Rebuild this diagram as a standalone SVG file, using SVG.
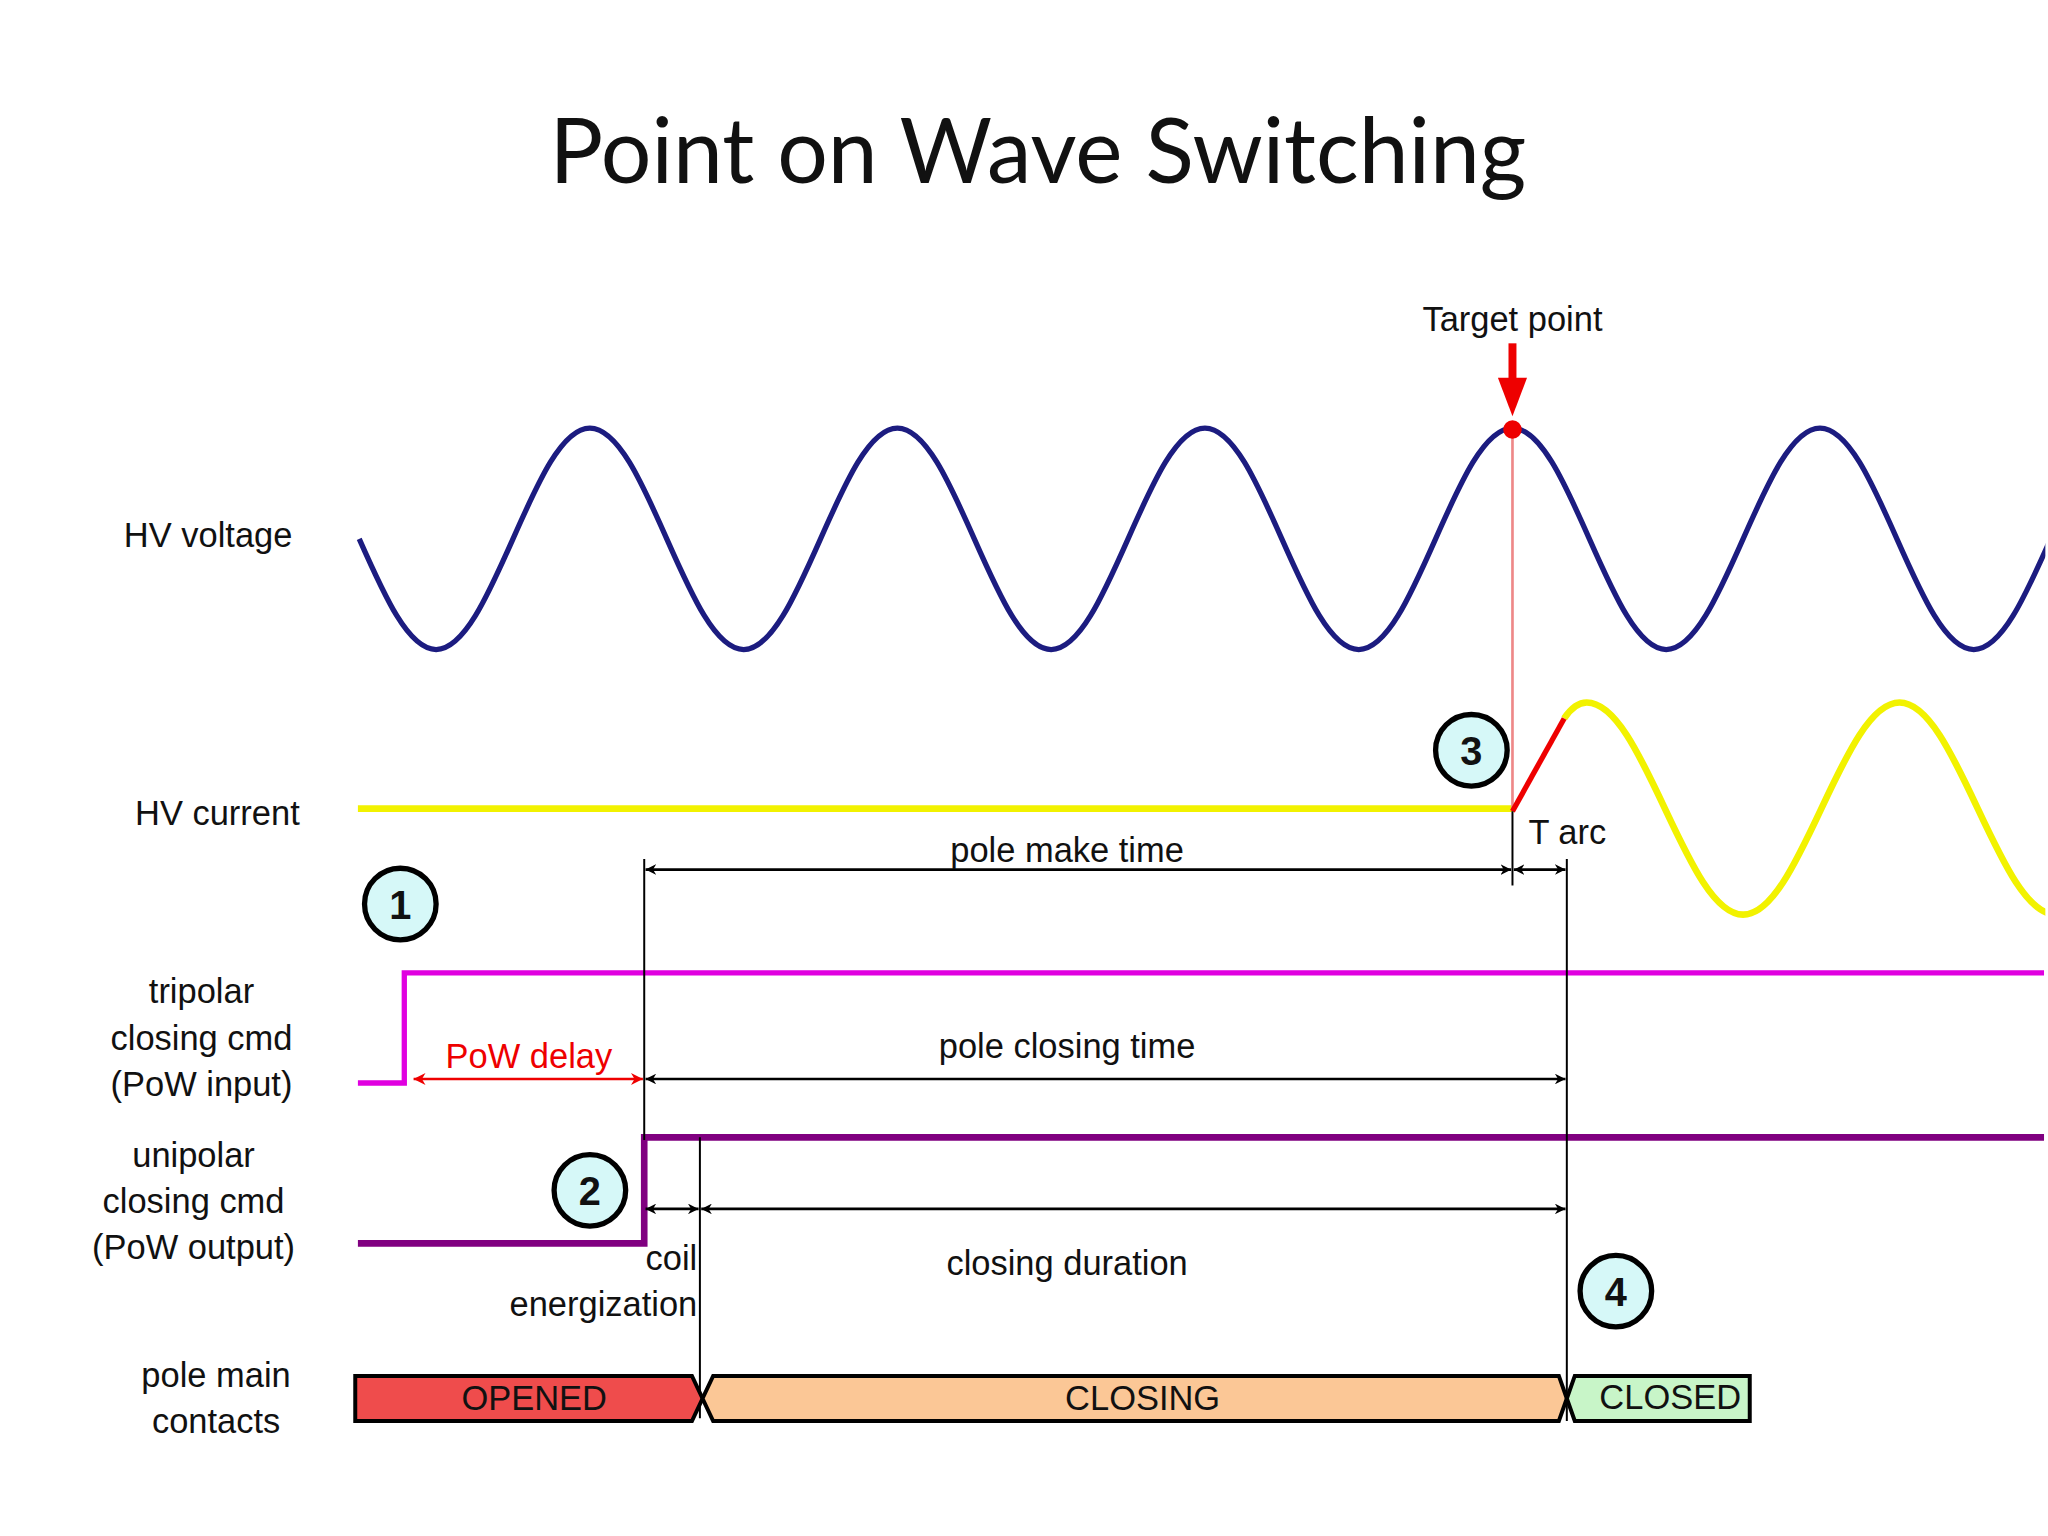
<svg xmlns="http://www.w3.org/2000/svg" width="2048" height="1536" viewBox="0 0 2048 1536">
<style>
.t{font-family:"Liberation Sans",Arial,sans-serif;font-size:26px;fill:#111}
.m{text-anchor:middle}
.dim{stroke:#000;stroke-width:2;fill:none;marker-start:url(#ah);marker-end:url(#ah)}
.vl{stroke:#000;stroke-width:1.5}
.num{fill:#d6f8f8;stroke:#000;stroke-width:4}
.nt{font-family:"Liberation Sans",Arial,sans-serif;font-size:30px;font-weight:bold;text-anchor:middle;fill:#111}
</style>
<defs>
<marker id="ah" viewBox="0 0 10 10" refX="10" refY="5" markerWidth="8" markerHeight="8" markerUnits="userSpaceOnUse" orient="auto-start-reverse"><path d="M0,0 L10,5 L0,10 L3,5 z" fill="#000"/></marker>
<marker id="ahr" viewBox="0 0 10 10" refX="10" refY="5" markerWidth="9" markerHeight="9" markerUnits="userSpaceOnUse" orient="auto-start-reverse"><path d="M0,0 L10,5 L0,10 L3,5 z" fill="#e00"/></marker>
<clipPath id="cp"><rect x="260" y="200" width="1283" height="600"/></clipPath>
</defs>
<rect width="2048" height="1536" fill="#fff"/>
<g transform="scale(1.32557)">
<text x="783" y="138" font-family="Lato,'Open Sans',sans-serif" font-size="68" text-anchor="middle" textLength="737" lengthAdjust="spacingAndGlyphs" fill="#111">Point on Wave Switching</text>

<g id="labels">
<text class="t m" x="157" y="413">HV voltage</text>
<text class="t m" x="164" y="622">HV current</text>
<text class="t m" x="152" y="757">tripolar</text>
<text class="t m" x="152" y="792">closing cmd</text>
<text class="t m" x="152" y="827">(PoW input)</text>
<text class="t m" x="146" y="880">unipolar</text>
<text class="t m" x="146" y="915">closing cmd</text>
<text class="t m" x="146" y="950">(PoW output)</text>
<text class="t m" x="163" y="1046">pole main</text>
<text class="t m" x="163" y="1081">contacts</text>
</g>

<g id="waves" clip-path="url(#cp)" fill="none">
<path id="voltage" stroke="#1c1c80" stroke-width="4" d="M271,406.5 c18.91,42.78 37.01,83.5 58,83.5 c20.99,0 39.09,-40.72 58,-83.5 c18.91,-42.78 37.01,-83.5 58,-83.5 c20.99,0 39.09,40.72 58,83.5
c18.91,42.78 37.01,83.5 58,83.5 c20.99,0 39.09,-40.72 58,-83.5 c18.91,-42.78 37.01,-83.5 58,-83.5 c20.99,0 39.09,40.72 58,83.5
c18.91,42.78 37.01,83.5 58,83.5 c20.99,0 39.09,-40.72 58,-83.5 c18.91,-42.78 37.01,-83.5 58,-83.5 c20.99,0 39.09,40.72 58,83.5
c18.91,42.78 37.01,83.5 58,83.5 c20.99,0 39.09,-40.72 58,-83.5 c18.91,-42.78 37.01,-83.5 58,-83.5 c20.99,0 39.09,40.72 58,83.5
c18.91,42.78 37.01,83.5 58,83.5 c20.99,0 39.09,-40.72 58,-83.5 c18.91,-42.78 37.01,-83.5 58,-83.5 c20.99,0 39.09,40.72 58,83.5
c18.91,42.78 37.01,83.5 58,83.5 c20.99,0 39.09,-40.72 58,-83.5"/>
<path id="current" stroke="#f2f200" stroke-width="5" d="M270,610 H1141 M1180,542 Q1188,530 1197,530 c21.35,0 39.76,39.02 59,80 c19.24,40.98 37.65,80 59,80 c21.35,0 39.76,-39.02 59,-80 c19.24,-40.98 37.65,-80 59,-80 c21.35,0 39.76,39.02 59,80 c19.24,40.98 37.65,80 59,80"/>
</g>

<g id="target">
<line x1="1141" y1="323" x2="1141" y2="612" stroke="#e88" stroke-width="2"/>
<line x1="1141" y1="612" x2="1180" y2="542" stroke="#e00" stroke-width="4"/>
<circle cx="1141" cy="324" r="7" fill="#e00"/>
<rect x="1138" y="259" width="6" height="28" fill="#e00"/>
<path d="M1130,285 L1152,285 L1141,314 z" fill="#e00"/>
<text class="t m" x="1141" y="250">Target point</text>
</g>

<g id="signals" fill="none">
<path stroke="#e000e0" stroke-width="4" d="M270,817 H305 V734 H1542"/>
<path stroke="#800080" stroke-width="5" d="M270,938 H486 V858 H1542"/>
</g>

<g id="connectors">
<line class="vl" x1="486" y1="648" x2="486" y2="860"/>
<line class="vl" x1="1141" y1="612" x2="1141" y2="668"/>
<line class="vl" x1="1182" y1="648" x2="1182" y2="1072"/>
<line class="vl" x1="528" y1="858" x2="528" y2="1070"/>
<line class="dim" x1="487" y1="656" x2="1140" y2="656"/>
<line class="dim" x1="1142" y1="656" x2="1181" y2="656"/>
<line class="dim" x1="487" y1="814" x2="1181" y2="814"/>
<line x1="312" y1="814" x2="485" y2="814" stroke="#e00" stroke-width="2" marker-start="url(#ahr)" marker-end="url(#ahr)"/>
<line class="dim" x1="487" y1="912" x2="527" y2="912"/>
<line class="dim" x1="529" y1="912" x2="1181" y2="912"/>
</g>

<g id="dimlabels">
<text class="t m" x="805" y="650">pole make time</text>
<text class="t" x="1153" y="637">T arc</text>
<text class="t m" x="399" y="806" fill="#e00" style="fill:#e00">PoW delay</text>
<text class="t m" x="805" y="798">pole closing time</text>
<text class="t m" x="805" y="962">closing duration</text>
<text class="t" x="526" y="958" text-anchor="end">coil</text>
<text class="t" x="526" y="993" text-anchor="end">energization</text>
</g>

<g id="n1"><circle class="num" cx="302" cy="682" r="27"/><text class="nt" x="302" y="693">1</text></g>
<g id="n2"><circle class="num" cx="445" cy="898" r="27"/><text class="nt" x="445" y="909">2</text></g>
<g id="n3"><circle class="num" cx="1110" cy="566" r="27"/><text class="nt" x="1110" y="577">3</text></g>
<g id="n4"><circle class="num" cx="1219" cy="974" r="27"/><text class="nt" x="1219" y="985">4</text></g>

<g id="opened"><path d="M268,1038 H522 L530,1055 L522,1072 H268 z" fill="#ef4c4c" stroke="#000" stroke-width="3"/><text class="t m" x="403" y="1064">OPENED</text></g>
<g id="closing"><path d="M538,1038 H1176 L1182,1055 L1176,1072 H538 L530,1055 z" fill="#fbc796" stroke="#000" stroke-width="3"/><text class="t m" x="862" y="1064">CLOSING</text></g>
<g id="closed"><path d="M1188,1038 H1320 V1072 H1188 L1182,1055 z" fill="#c8f5c8" stroke="#000" stroke-width="3"/><text class="t m" x="1260" y="1063">CLOSED</text></g>
</g>
</svg>
